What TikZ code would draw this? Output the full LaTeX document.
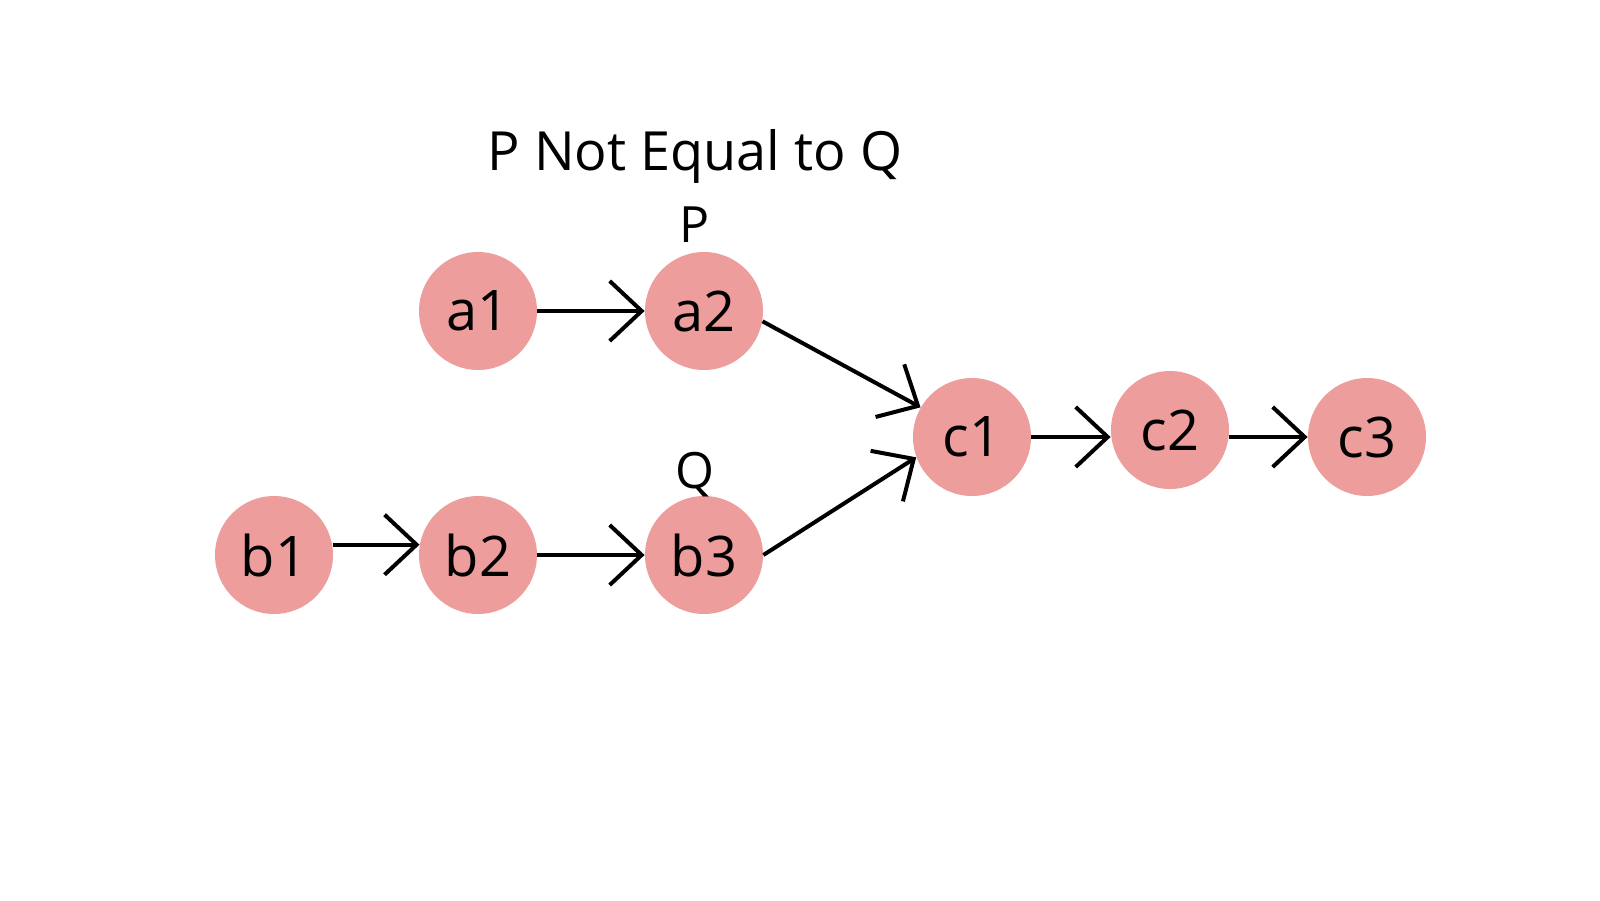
\documentclass[tikz,border=0pt]{standalone}
\usepackage{fontspec}
\setmainfont{Open Sans}
\usetikzlibrary{arrows.meta}
\definecolor{nodepink}{RGB}{238,157,157}
\tikzset{
  ball/.style={circle, fill=nodepink, minimum size=59pt, inner sep=0pt, font=\fontsize{28}{32}\selectfont},
  link/.style={-{Straight Barb[length=16pt, width=30pt]}, line width=2pt},
  tag/.style={font=\fontsize{25}{29}\selectfont}
}
\begin{document}
\begin{tikzpicture}[x=0.5pt, y=-0.5pt]
    \useasboundingbox (0,0) rectangle (1600,900);
    \node[font=\fontsize{27}{31}\selectfont] (title) at (695,156) {P Not Equal to Q};
    \node[ball] (a1) at (478,311) {a1};
    \node[ball] (a2) at (704,311) {a2};
    \node[ball] (b1) at (274,555) {b1};
    \node[ball] (b2) at (478,555) {b2};
    \node[ball] (b3) at (704,555) {b3};
    \node[ball] (c1) at (972,437) {c1};
    \node[ball] (c2) at (1170,430) {c2};
    \node[ball] (c3) at (1367,437) {c3};
    \node[tag] (p) at (695,225) {P};
    \node[tag] (q) at (695,475) {Q};
    \draw[link] (a1.east) -- (a2.west);
    \draw[link] (b1.10) -- (b2.170);
    \draw[link] (b2.east) -- (b3.west);
    \draw[link] (a2.-10) -- (c1.150);
    \draw[link] (b3.east) -- (c1.200);
    \draw[link] (c1.east) -- (c1.east -| c2.west);
    \draw[link] (c2.east |- c3.west) -- (c3.west);
  \end{tikzpicture}
\end{document}
